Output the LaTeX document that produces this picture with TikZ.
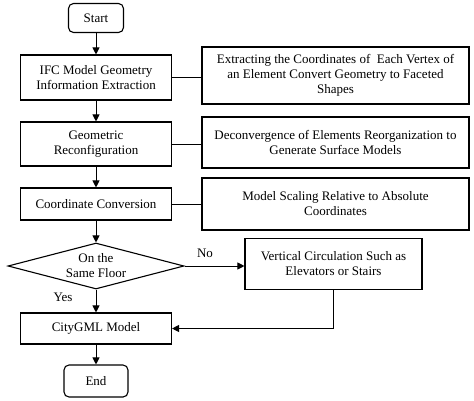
\documentclass[tikz,border=0pt]{standalone}
\usepackage{fontspec}
\setmainfont{Liberation Serif}
\usetikzlibrary{shapes.geometric,arrows.meta}
\begin{document}
\begin{tikzpicture}[x=1pt,y=-1pt,
  box/.style={draw,line width=1.1pt,align=center,inner sep=0pt,font=\fontsize{13}{15}\selectfont},
  term/.style={box,rounded corners=5pt},
  link/.style={line width=0.9pt},
  arr/.style={link,-{Triangle[length=7pt,width=7pt]}},
  lbl/.style={font=\fontsize{13}{15}\selectfont}]
\useasboundingbox (0,0) rectangle (474,400);
\node[term,minimum width=55pt,minimum height=29pt] (start) at (96,18) {Start};
\node[box,minimum width=151pt,minimum height=45pt] (ifc) at (96,77.5) {IFC Model Geometry\\Information Extraction};
\node[box,minimum width=151pt,minimum height=44pt] (geo) at (96,144) {Geometric\\Reconfiguration};
\node[box,minimum width=151pt,minimum height=32pt] (coord) at (96,204) {Coordinate Conversion};
\node[box,diamond,aspect=3.8,minimum width=176pt,minimum height=46pt] (floor) at (96,266) {On the\\Same Floor};
\node[box,minimum width=151pt,minimum height=31pt] (city) at (96,328.5) {CityGML Model};
\node[term,minimum width=64pt,minimum height=32pt] (end) at (96,381) {End};
\node[box,minimum width=267pt,minimum height=57pt] (r1) at (335.5,75.5) {Extracting the Coordinates of~ Each Vertex of\\an Element Convert Geometry to Faceted\\Shapes};
\node[box,minimum width=267pt,minimum height=51pt] (r2) at (335.5,142.5) {Deconvergence of Elements Reorganization to\\Generate Surface Models};
\node[box,minimum width=267pt,minimum height=52pt] (r3) at (335.5,204) {Model Scaling Relative to Absolute\\Coordinates};
\node[box,minimum width=177pt,minimum height=51pt] (vert) at (333.5,264) {Vertical Circulation Such as\\Elevators or Stairs};
\draw[arr] (start) -- (ifc);
\draw[arr] (ifc) -- (geo);
\draw[arr] (geo) -- (coord);
\draw[arr] (coord) -- (floor);
\draw[arr] (floor) -- (city);
\draw[arr] (city) -- (end);
\draw[link] (ifc.east) -- (ifc.east -| r1.west);
\draw[link] (geo.east) -- (geo.east -| r2.west);
\draw[link] (coord.east) -- (coord.east -| r3.west);
\draw[arr] (floor.east) -- (floor.east -| vert.west);
\draw[arr] (vert.south) |- (city.east);
\node[lbl] (no) at (205,253) {No};
\node[lbl] (yes) at (63,297) {Yes};
\end{tikzpicture}
\end{document}
